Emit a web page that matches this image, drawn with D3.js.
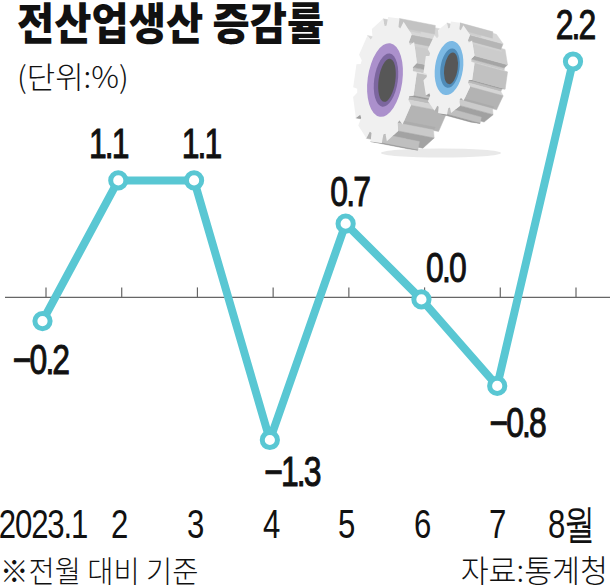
<!DOCTYPE html>
<html>
<head>
<meta charset="utf-8">
<script src="https://cdnjs.cloudflare.com/ajax/libs/d3/7.8.5/d3.min.js"></script>
<style>
  html, body { margin: 0; padding: 0; background: #fff; }
  svg { display: block; }
</style>
</head>
<body>
<svg id="chart" width="610" height="587"></svg>
<script>
const months = ["2023.1", "2", "3", "4", "5", "6", "7", "8월"];
const values = [-0.2, 1.1, 1.1, -1.3, 0.7, 0.0, -0.8, 2.2];
const valueLabels = ["−0.2", "1.1", "1.1", "−1.3", "0.7", "0.0", "−0.8", "2.2"];

const numFont = "'Liberation Sans', sans-serif";
const krFont = "'Noto Sans CJK KR', sans-serif";
const teal = "#59c7d3";

const svg = d3.select("#chart");

const x = d3.scalePoint().domain(d3.range(months.length)).range([42.5, 573]);
const tickX = d3.scalePoint().domain(d3.range(months.length)).range([46, 576]);
const y = d3.scaleLinear().domain([-1.3, 2.2]).range([440, 61.5]);

// squeezed text, the paper's type is very condensed
function label(txt, px, py, size, opts) {
  opts = opts || {};
  const sx = opts.sx || 0.76;
  svg.append("text")
    .attr("transform", "translate(" + px + "," + py + ") scale(" + sx + ",1)")
    .attr("text-anchor", opts.anchor || "middle")
    .attr("font-family", opts.font || numFont)
    .attr("font-size", size)
    .attr("font-weight", opts.weight || "normal")
    .attr("letter-spacing", opts.spacing || 0)
    .attr("fill", "#111")
    .attr("stroke", opts.stroke ? "#111" : "none")
    .attr("stroke-width", opts.stroke || 0)
    .text(txt);
}

// gear outline as a list of points
function gearPoints(o) {
  const pts = [];
  const r = o.rot * Math.PI / 180;
  for (let i = 0; i < o.teeth; i++) {
    const a = i / o.teeth * 2 * Math.PI;
    const w = Math.PI / o.teeth;
    [[-w * 0.86, 0.87], [-w * 0.7, 1], [w * 0.7, 1], [w * 0.86, 0.87]].forEach(function(p) {
      const ex = o.rx * p[1] * Math.cos(a + p[0]);
      const ey = o.ry * p[1] * Math.sin(a + p[0]);
      pts.push([o.cx + ex * Math.cos(r) - ey * Math.sin(r), o.cy + ex * Math.sin(r) + ey * Math.cos(r)]);
    });
  }
  return pts;
}

function gear(g, o) {
  const pts = gearPoints(o);
  const shade = d3.scaleLinear().domain([-1, 0, 1]).range(["#e2e2e2", "#c8c8c8", "#969696"]);
  const quads = [];
  pts.forEach(function(p, i) {
    const q = pts[(i + 1) % pts.length];
    const ex = q[0] - p[0], ey = q[1] - p[1];
    const len = Math.hypot(ex, ey);
    const nx = ey / len, ny = -ex / len;
    if (nx * o.dx + ny * o.dy <= 0) return;
    quads.push({
      pts: [p, q, [q[0] + o.dx, q[1] + o.dy], [p[0] + o.dx, p[1] + o.dy]],
      ny: ny,
      order: Math.hypot((p[0] + q[0]) / 2 - o.cx, (p[1] + q[1]) / 2 - o.cy)
    });
  });
  quads.sort(function(a, b) { return a.order - b.order; });
  quads.forEach(function(d) {
    g.append("polygon")
      .attr("points", d.pts.join(" "))
      .attr("fill", shade(d.ny))
      .attr("stroke", shade(d.ny))
      .attr("stroke-width", 0.5);
  });
  g.append("polygon").attr("points", pts.join(" ")).attr("fill", "#f0f0f0");
  const t = "rotate(" + o.rot + " " + o.cx + " " + o.cy + ")";
  [[o.holes[0], 0.56, 0.58, 0], [o.holes[1], 0.38, 0.42, 1], ["#575757", 0.27, 0.34, 2]].forEach(function(h) {
    g.append("ellipse")
      .attr("cx", o.cx + h[3]).attr("cy", o.cy)
      .attr("rx", o.rx * h[1]).attr("ry", o.ry * h[2])
      .attr("transform", t).attr("fill", h[0]);
  });
}

const gears = svg.append("g");
gears.append("ellipse").attr("cx", 441).attr("cy", 153).attr("rx", 60).attr("ry", 4.5).attr("fill", "#e9e9e9");
gear(gears, { cx: 385, cy: 80, rx: 31, ry: 64, rot: 8, dx: 36, dy: 7, teeth: 12, holes: ["#ab90cc", "#7c669f"] });
gear(gears, { cx: 449, cy: 68, rx: 25, ry: 47, rot: 8, dx: 33, dy: 9, teeth: 12, holes: ["#7cb9e4", "#4f8bb8"] });

// baseline and ticks
const axisY = y(0) - 2;
svg.append("line")
  .attr("x1", 5).attr("x2", 610).attr("y1", axisY).attr("y2", axisY)
  .attr("stroke", "#666").attr("stroke-width", 1.2);
svg.selectAll(".tick").data(months).enter().append("line")
  .attr("class", "tick")
  .attr("x1", function(d, i) { return tickX(i); })
  .attr("x2", function(d, i) { return tickX(i); })
  .attr("y1", axisY - 10).attr("y2", axisY)
  .attr("stroke", "#666").attr("stroke-width", 1.2);

// series line
const line = d3.line()
  .x(function(d, i) { return x(i); })
  .y(function(d) { return y(d); });
svg.append("path")
  .datum(values)
  .attr("d", line)
  .attr("fill", "none")
  .attr("stroke", teal)
  .attr("stroke-width", 8)
  .attr("stroke-linejoin", "round");

svg.selectAll(".pt").data(values).enter().append("circle")
  .attr("class", "pt")
  .attr("cx", function(d, i) { return x(i); })
  .attr("cy", function(d) { return y(d); })
  .attr("r", 7.6)
  .attr("fill", "#fff")
  .attr("stroke", teal)
  .attr("stroke-width", 5);

// value labels, offset from each point
const labelDx = [-2, -10, 7, 22, 4, 24, 20, 2];
const labelDy = [53, -22, -22, 46, -18, -17, 51, -23];
values.forEach(function(v, i) {
  label(valueLabels[i], x(i) + labelDx[i], y(v) + labelDy[i], 42, { stroke: 1, spacing: -2.5 });
});

// month labels
const monthX = [43, 119, 195, 271, 346, 422, 497, 571];
months.forEach(function(m, i) {
  label(m, monthX[i], 538, 41, { spacing: -1.5 });
});

// title etc
label("전산업생산 증감률", 17, 40, 44, { font: krFont, weight: 900, anchor: "start", sx: 0.92 });
label("(단위:%)", 17, 88, 30, { font: krFont, weight: 300, anchor: "start", sx: 1.03 });
label("※전월 대비 기준", 0, 582, 30, { font: krFont, weight: 300, anchor: "start", sx: 0.95 });
label("자료:통계청", 608, 582, 31, { font: krFont, weight: 300, anchor: "end", sx: 0.98 });
</script>
</body>
</html>
